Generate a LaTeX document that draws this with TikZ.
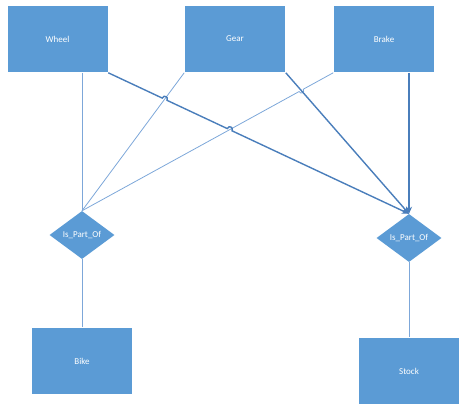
\documentclass[tikz,border=0pt]{standalone}
\usepackage{fontspec}
\setmainfont{Carlito}
\usetikzlibrary{shapes.geometric,arrows.meta,calc,intersections}
\definecolor{boxblue}{HTML}{5B9BD5}
\definecolor{thinline}{HTML}{7DA7D9}
\definecolor{thickline}{HTML}{4A7EBB}
\begin{document}
\begin{tikzpicture}[x=1pt,y=-1pt,
  entity/.style={rectangle,fill=boxblue,draw=white,line width=0.6pt,minimum width=101pt,minimum height=67pt,inner sep=0pt,text=white,font=\fontsize{9}{10}\selectfont},
  rel/.style={diamond,fill=boxblue,draw=none,minimum width=65pt,minimum height=48pt,aspect=1.33,inner sep=0pt,text=white,font=\fontsize{9}{10}\selectfont},
  thinconn/.style={draw=thinline,line width=0.8pt},
  thickconn/.style={draw=thickline,line width=1.4pt,-{Stealth[length=7pt,width=6pt,inset=2pt]}}]
\useasboundingbox (0,0) rectangle (474,411);
\node[entity] (wheel) at (57.5,39) {Wheel};
\node[entity] (gear) at (235,39) {Gear};
\node[entity] (brake) at (384,39) {Brake};
\node[rel] (isl) at (82,235) {Is\_Part\_Of};
\node[rel] (isr) at (409,238) {Is\_Part\_Of};
\node[entity] (bike) at (82,361) {Bike};
\node[entity] (stock) at (409,371) {Stock};
% helper paths for the crossing points
\path[name path=wr] (wheel.south east) -- (isr.north);
\path[name path=gl] (gear.south west) -- (isl.north);
\path[name path=bl] (brake.south west) -- (isl.north);
\path[name path=gr] (gear.south east) -- (isr.north);
\path[name intersections={of=wr and gl, by=xa}];
\path[name intersections={of=wr and bl, by=xb}];
\path[name intersections={of=bl and gr, by=xc}];
\coordinate (xa1) at ($(xa)!2.6pt!(wheel.south east)$);
\coordinate (xa2) at ($(xa)!2.6pt!(isr.north)$);
\coordinate (xb1) at ($(xb)!2.6pt!(wheel.south east)$);
\coordinate (xb2) at ($(xb)!2.6pt!(isr.north)$);
\coordinate (xc1) at ($(xc)!2.4pt!(brake.south west)$);
\coordinate (xc2) at ($(xc)!2.4pt!(isl.north)$);
\draw[thinconn] (wheel.south -| isl.north) -- (isl.north);
\draw[thinconn] (gear.south west) -- (isl.north);
\draw[thinconn] (brake.south west) -- (xc1)
  .. controls ($(xc1)!3.6pt!90:(xc)$) and ($(xc2)!3.6pt!-90:(xc)$) .. (xc2)
  -- (isl.north);
\draw[thinconn] (isl.south) -- (bike.north);
\draw[thinconn] (isr.south) -- (stock.north);
\draw[thickconn] (wheel.south east) -- (xa1)
  .. controls ($(xa1)!4pt!90:(xa)$) and ($(xa2)!4pt!-90:(xa)$) .. (xa2)
  -- (xb1)
  .. controls ($(xb1)!4pt!90:(xb)$) and ($(xb2)!4pt!-90:(xb)$) .. (xb2)
  -- (isr.north);
\draw[thickconn] (gear.south east) -- (isr.north);
\draw[thickconn] (brake.south -| isr.north) -- (isr.north);
\end{tikzpicture}
\end{document}
